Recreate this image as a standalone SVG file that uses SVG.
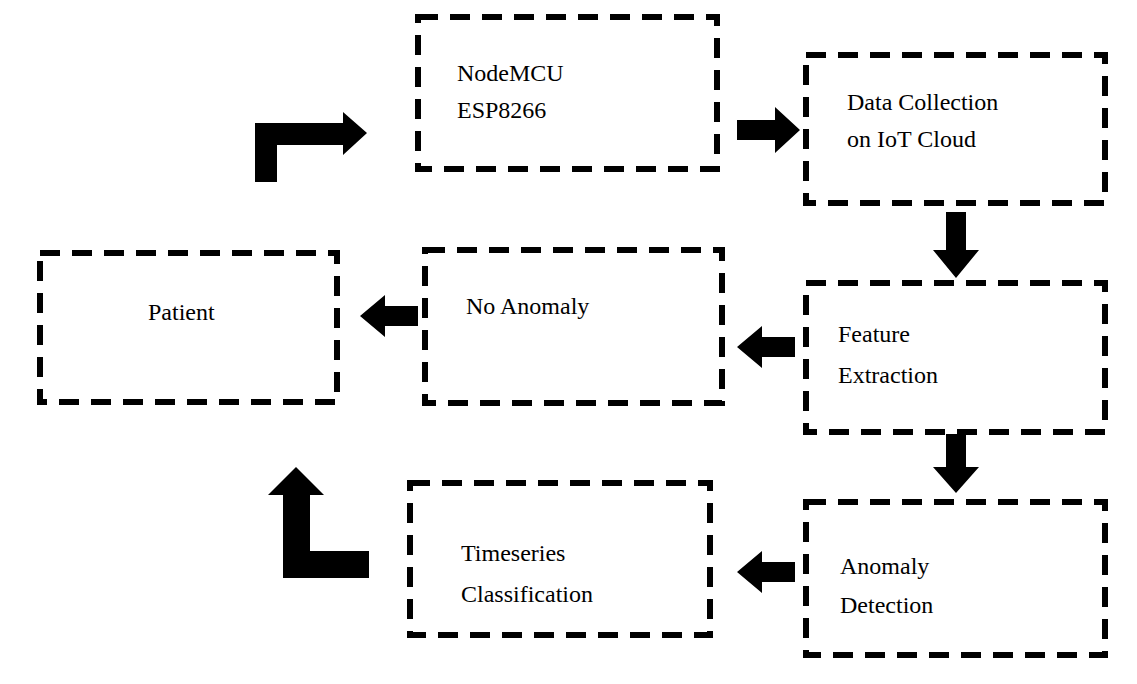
<svg xmlns="http://www.w3.org/2000/svg" width="1137" height="684" viewBox="0 0 1137 684">
<style>
.b{fill:none;stroke:#000;stroke-width:6;stroke-dasharray:20 12}
text{font-family:'Liberation Serif','Times New Roman','DejaVu Serif',serif;font-size:24px;fill:#000}
.a{fill:#000}
</style>
<rect width="1137" height="684" fill="#fff"/>
<g id="n1"><rect class="b" x="418" y="17" width="299" height="152"/><text x="457" y="81">NodeMCU</text><text x="457" y="118">ESP8266</text></g>
<g id="n2"><rect class="b" x="806" y="55" width="299" height="148"/><text x="847" y="110">Data Collection</text><text x="847" y="147">on IoT Cloud</text></g>
<g id="n3"><rect class="b" x="40" y="253" width="297" height="149"/><text x="148" y="320">Patient</text></g>
<g id="n4"><rect class="b" x="425" y="250" width="297" height="153"/><text x="466" y="314">No Anomaly</text></g>
<g id="n5"><rect class="b" x="806" y="283" width="299" height="149"/><text x="838" y="342">Feature</text><text x="838" y="383">Extraction</text></g>
<g id="n6"><rect class="b" x="410" y="483" width="300" height="152"/><text x="461" y="561">Timeseries</text><text x="461" y="602">Classification</text></g>
<g id="n7"><rect class="b" x="806" y="502" width="299" height="153"/><text x="840" y="574">Anomaly</text><text x="840" y="613">Detection</text></g>
<g id="connectors">
<polygon class="a" points="255,123 343,123 343,112 367,133 343,155 343,145 277,145 277,182 255,182"/>
<polygon class="a" points="283,578 369,578 369,551 310,551 310,495 324,495 296,467 268,495 283,495"/>
<polygon class="a" points="737,120 775,120 775,107 800,130 775,153 775,140 737,140"/>
<polygon class="a" points="946,212 966,212 966,250 979,250 956,278 933,250 946,250"/>
<polygon class="a" points="946,434 966,434 966,467 979,467 956,493 933,467 946,467"/>
<polygon class="a" points="418,306 385,306 385,295 360,316 385,337 385,326 418,326"/>
<polygon class="a" points="795,337 762,337 762,326 737,347 762,368 762,357 795,357"/>
<polygon class="a" points="795,562 762,562 762,551 737,572 762,593 762,582 795,582"/>
</g>
</svg>
